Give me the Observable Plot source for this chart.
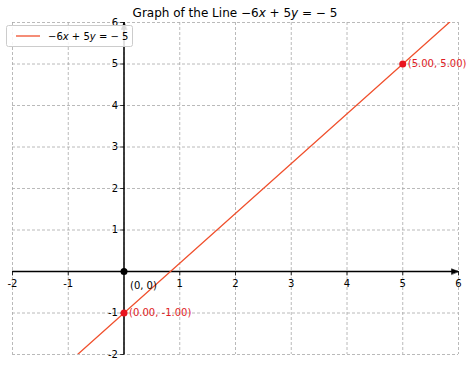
<!DOCTYPE html>
<html>
<head>
<meta charset="utf-8">
<script src="https://cdn.jsdelivr.net/npm/d3@7"></script>
<script src="https://cdn.jsdelivr.net/npm/@observablehq/plot@0.6"></script>
<style>
body { margin: 0; background: #fff; }
#chart svg { display: block; }
</style>
</head>
<body>
<div id="chart"></div>
<script>
// Line: a*x + b*y = c
const a = -6, b = 5, c = -5;
const xTicks = [-2, -1, 1, 2, 3, 4, 5, 6];
const yTicks = [-2, -1, 1, 2, 3, 4, 5, 6];
const gridTicks = [-2, -1, 0, 1, 2, 3, 4, 5, 6];
const lineX = [-2, 6];
const redPoints = [{x: 0, y: -1, label: "(0.00, -1.00)"}, {x: 5, y: 5, label: "(5.00, 5.00)"}];
const origin = [{x: 0, y: 0, label: "(0, 0)"}];

const lineData = lineX.map(x => ({x, y: (c - a * x) / b}));
const font = "DejaVu Sans, sans-serif";
const tickShape = {draw(ctx, l) { ctx.moveTo(0, 0); ctx.lineTo(0, -l); }};
const headShape = {draw(ctx, l) { ctx.moveTo(0, 0); ctx.lineTo(-2.8, l); ctx.lineTo(2.8, l); ctx.closePath(); }};

const chart = Plot.plot({
  width: 474,
  height: 368,
  marginLeft: 12,
  marginRight: 16,
  marginTop: 22,
  marginBottom: 14,
  style: {fontFamily: font, fontSize: "10px", background: "#fff"},
  x: {domain: [-2, 6], axis: null},
  y: {domain: [-2, 6], axis: null},
  marks: [
    Plot.ruleX(gridTicks, {x: d => d, stroke: "#a8a8a8", strokeDasharray: "3,2", strokeWidth: 0.8}),
    Plot.ruleY(gridTicks, {y: d => d, stroke: "#a8a8a8", strokeDasharray: "3,2", strokeWidth: 0.8}),
    Plot.ruleY([0], {x1: -2, x2: 6, y: d => d, stroke: "black", strokeWidth: 1.5}),
    Plot.ruleX([0], {y1: -2, y2: 6, x: d => d, stroke: "black", strokeWidth: 1.5}),
    Plot.vector([6], {x: d => d, y: 0, length: 7, rotate: 90, anchor: "start", shape: headShape, fill: "black", stroke: "black", strokeWidth: 0.5}),
    Plot.vector([6], {x: 0, y: d => d, length: 7, rotate: 0, anchor: "start", shape: headShape, fill: "black", stroke: "black", strokeWidth: 0.5}),
    Plot.vector(xTicks, {x: d => d, y: 0, length: 3.5, rotate: 180, anchor: "start", shape: tickShape, stroke: "black", strokeWidth: 0.8}),
    Plot.vector(yTicks, {x: 0, y: d => d, length: 3.5, rotate: 270, anchor: "start", shape: tickShape, stroke: "black", strokeWidth: 0.8}),
    Plot.text(xTicks, {x: d => d, y: 0, text: d => String(d), dy: 12, fill: "black", fontSize: 10}),
    Plot.text(yTicks, {x: 0, y: d => d, text: d => String(d), dx: -6, textAnchor: "end", fill: "black", fontSize: 10}),
    Plot.line(lineData, {x: "x", y: "y", stroke: "#f0502d", strokeWidth: 1.3, clip: true}),
    Plot.dot(redPoints, {x: "x", y: "y", r: 3.5, fill: "#e8141e"}),
    Plot.text(redPoints, {x: "x", y: "y", text: "label", dx: 5, textAnchor: "start", fill: "#e01b24", fontSize: 10}),
    Plot.dot(origin, {x: "x", y: "y", r: 3.5, fill: "black"}),
    Plot.text(origin, {x: "x", y: "y", text: "label", dx: 6, dy: 14, textAnchor: "start", fill: "black", fontSize: 10})
  ]
});
document.getElementById("chart").appendChild(chart);

const svg = d3.select(chart);
// Title
const title = svg.append("text")
  .attr("x", 235).attr("y", 17)
  .attr("text-anchor", "middle")
  .attr("font-family", font).attr("font-size", 12).attr("fill", "black");
title.append("tspan").text("Graph of the Line \u22126");
title.append("tspan").attr("font-style", "italic").text("x");
title.append("tspan").text(" + 5");
title.append("tspan").attr("font-style", "italic").text("y");
title.append("tspan").text(" = \u2212 5");

// Legend
const lg = svg.append("g");
lg.append("rect").attr("x", 6.5).attr("y", 25.5).attr("width", 126).attr("height", 21)
  .attr("rx", 2).attr("fill", "white").attr("fill-opacity", 0.85).attr("stroke", "#cccccc");
lg.append("line").attr("x1", 16).attr("x2", 40).attr("y1", 36).attr("y2", 36)
  .attr("stroke", "#f0502d").attr("stroke-width", 1.3);
const lt = lg.append("text").attr("x", 48).attr("y", 39.5)
  .attr("text-anchor", "start")
  .attr("font-family", font).attr("font-size", 10).attr("fill", "black");
lt.append("tspan").text("\u22126");
lt.append("tspan").attr("font-style", "italic").text("x");
lt.append("tspan").text(" + 5");
lt.append("tspan").attr("font-style", "italic").text("y");
lt.append("tspan").text(" = \u2212 5");
</script>
</body>
</html>
